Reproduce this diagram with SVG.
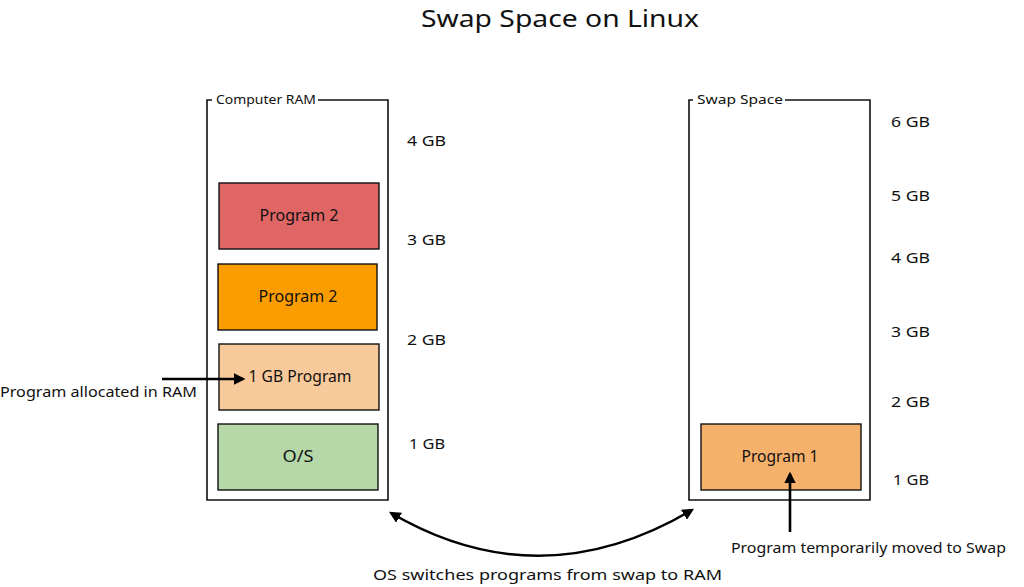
<svg xmlns="http://www.w3.org/2000/svg" width="1024" height="587" viewBox="0 0 1024 587">
<defs>
<style>
text{font-family:"Noto Sans","Liberation Sans",sans-serif;fill:#111}
.frame{fill:none;stroke:#111;stroke-width:1.6}
.blk{stroke:#111;stroke-width:1.4}
.lbl{font-size:15.5px;text-anchor:middle}
.gb{font-size:15px}
.small{font-size:12.5px}
.note{font-size:15px}
.conn{fill:none;stroke:#000;stroke-width:2.6}
</style>
<marker id="ah" viewBox="0 0 10 10" refX="8" refY="5" markerWidth="4.5" markerHeight="4.5" orient="auto-start-reverse">
<path d="M0,0 L10,5 L0,10 z" fill="#000"/>
</marker>
</defs>
<rect width="1024" height="587" fill="#fff"/>
<text x="560" y="27" font-size="24" text-anchor="middle" textLength="278" lengthAdjust="spacingAndGlyphs">Swap Space on Linux</text>

<g id="ram">
<path class="frame" d="M212,100 H207 V500 H388 V100 H318"/>
<text class="small" x="216" y="104" textLength="100" lengthAdjust="spacingAndGlyphs">Computer RAM</text>
<text class="gb" x="407" y="146" textLength="39" lengthAdjust="spacingAndGlyphs">4 GB</text>
<text class="gb" x="407" y="245" textLength="39" lengthAdjust="spacingAndGlyphs">3 GB</text>
<text class="gb" x="407" y="345" textLength="39" lengthAdjust="spacingAndGlyphs">2 GB</text>
<text class="gb" x="409" y="449" textLength="36" lengthAdjust="spacingAndGlyphs">1 GB</text>
</g>
<g id="prog2a"><rect class="blk" x="219" y="183" width="160" height="66" fill="#e06666"/><text class="lbl" x="299" y="221" textLength="79" lengthAdjust="spacingAndGlyphs">Program 2</text></g>
<g id="prog2b"><rect class="blk" x="218" y="264" width="159" height="66" fill="#fb9c00"/><text class="lbl" x="298" y="302" textLength="79" lengthAdjust="spacingAndGlyphs">Program 2</text></g>
<g id="prog1gb"><rect class="blk" x="219" y="344" width="160" height="66" fill="#f8c99a"/><text class="lbl" x="300" y="382" textLength="103" lengthAdjust="spacingAndGlyphs">1 GB Program</text></g>
<g id="os"><rect class="blk" x="218" y="424" width="160" height="66" fill="#b6d7a8"/><text class="lbl" x="298" y="462" textLength="31" lengthAdjust="spacingAndGlyphs">O/S</text></g>

<g id="swap">
<path class="frame" d="M693,100 H689 V500 H870 V100 H785"/>
<text class="small" x="697" y="104" textLength="86" lengthAdjust="spacingAndGlyphs">Swap Space</text>
<text class="gb" x="891" y="127" textLength="39" lengthAdjust="spacingAndGlyphs">6 GB</text>
<text class="gb" x="891" y="201" textLength="39" lengthAdjust="spacingAndGlyphs">5 GB</text>
<text class="gb" x="891" y="263" textLength="39" lengthAdjust="spacingAndGlyphs">4 GB</text>
<text class="gb" x="891" y="337" textLength="39" lengthAdjust="spacingAndGlyphs">3 GB</text>
<text class="gb" x="891" y="407" textLength="39" lengthAdjust="spacingAndGlyphs">2 GB</text>
<text class="gb" x="893" y="485" textLength="36" lengthAdjust="spacingAndGlyphs">1 GB</text>
</g>
<g id="prog1"><rect class="blk" x="701" y="424" width="160" height="66" fill="#f5b06b"/><text class="lbl" x="780" y="462" textLength="77" lengthAdjust="spacingAndGlyphs">Program 1</text></g>

<g id="notes">
<text class="note" x="0" y="397" textLength="197" lengthAdjust="spacingAndGlyphs">Program allocated in RAM</text>
<text class="note" x="731" y="553" textLength="275" lengthAdjust="spacingAndGlyphs">Program temporarily moved to Swap</text>
<text class="note" x="373" y="580" textLength="349" lengthAdjust="spacingAndGlyphs">OS switches programs from swap to RAM</text>
</g>

<g id="connectors">
<path class="conn" d="M162,379 H243" marker-end="url(#ah)"/>
<path class="conn" d="M790,532 V474" marker-end="url(#ah)"/>
<path class="conn" d="M391,513 Q540,600 692,510" marker-start="url(#ah)" marker-end="url(#ah)"/>
</g>
</svg>
